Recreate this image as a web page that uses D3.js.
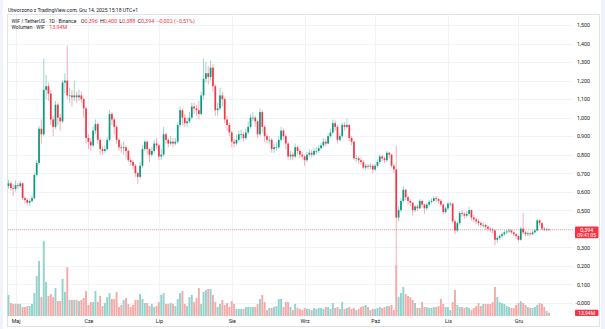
<!DOCTYPE html>
<html><head><meta charset="utf-8">
<script src="https://cdn.jsdelivr.net/npm/d3@7"></script>
<style>
html,body{margin:0;padding:0;background:#fff;}
svg{display:block;font-family:Roboto,"Noto Sans",sans-serif;}
</style></head><body>
<svg id="chart" width="605" height="329"></svg>
<script>
// WIF / TetherUS daily candles, Binance, 28 Apr – 14 Dec 2025
const firstDay = "2025-04-28";

const opens = [
0.630,0.645,0.620,0.615,0.635,0.630,0.645,0.565,0.555,0.540,
0.550,0.565,0.690,0.755,0.940,0.910,1.150,1.170,1.130,0.990,
0.950,1.070,1.000,0.980,1.190,1.200,1.120,1.120,1.110,1.120,
1.110,1.120,1.100,1.050,0.890,0.870,0.850,0.930,0.965,0.880,
0.830,0.820,0.830,0.880,1.020,0.990,0.950,0.880,0.840,0.835,
0.840,0.820,0.770,0.760,0.740,0.700,0.680,0.740,0.830,0.870,
0.830,0.800,0.820,0.860,0.850,0.790,0.800,0.910,0.880,0.860,
0.870,0.860,0.870,0.960,1.040,1.000,0.970,0.980,1.000,1.060,
1.050,1.040,1.020,1.120,1.210,1.240,1.220,1.270,1.170,1.040,
1.050,1.120,1.100,0.990,0.960,0.920,0.870,0.860,0.880,0.910,
0.910,0.890,0.920,0.950,1.000,1.000,0.980,0.910,1.030,0.950,
0.900,0.880,0.880,0.830,0.840,0.840,0.880,0.930,0.900,0.860,
0.790,0.800,0.790,0.840,0.820,0.800,0.790,0.770,0.800,0.810,
0.800,0.820,0.820,0.835,0.850,0.870,0.860,0.900,0.920,0.970,
0.950,0.880,0.900,0.960,0.950,0.960,0.890,0.870,0.780,0.780,
0.770,0.760,0.730,0.740,0.735,0.740,0.720,0.740,0.760,0.790,
0.780,0.770,0.810,0.800,0.740,0.720,0.460,0.500,0.550,0.610,
0.570,0.550,0.540,0.500,0.520,0.510,0.550,0.530,0.510,0.530,
0.545,0.550,0.565,0.560,0.550,0.530,0.490,0.510,0.535,0.535,
0.440,0.390,0.430,0.485,0.480,0.470,0.480,0.500,0.460,0.450,
0.440,0.430,0.420,0.420,0.410,0.400,0.395,0.390,0.340,0.350,
0.360,0.370,0.380,0.385,0.390,0.380,0.370,0.360,0.340,0.400,
0.380,0.370,0.375,0.370,0.380,0.390,0.445,0.430,0.400,0.395,
0.396];

const highs = [
0.665,0.655,0.640,0.660,0.650,0.660,0.650,0.575,0.565,0.560,
0.580,0.700,0.770,0.955,0.990,1.320,1.230,1.190,1.150,1.010,
1.090,1.080,1.020,1.200,1.240,1.390,1.160,1.150,1.200,1.140,
1.150,1.140,1.110,1.060,0.910,0.890,0.950,0.990,0.975,0.890,
0.845,0.850,0.895,1.040,1.030,1.000,0.960,0.890,0.860,0.870,
0.850,0.830,0.785,0.770,0.750,0.710,0.760,0.850,0.880,0.875,
0.835,0.840,0.880,0.890,0.860,0.830,0.950,0.920,0.890,0.900,
0.890,0.890,0.975,1.060,1.050,1.020,1.000,1.030,1.080,1.080,
1.070,1.090,1.140,1.320,1.300,1.280,1.310,1.290,1.180,1.080,
1.160,1.140,1.110,1.010,0.975,0.930,0.885,0.910,0.930,0.935,
0.920,0.940,0.980,1.020,1.030,1.010,0.990,1.050,1.040,0.960,
0.910,0.900,0.890,0.860,0.870,0.900,0.950,0.940,0.910,0.870,
0.820,0.815,0.860,0.850,0.830,0.815,0.800,0.815,0.830,0.825,
0.835,0.840,0.850,0.865,0.890,0.885,0.915,0.940,0.990,0.985,
0.960,0.915,0.975,0.975,0.995,0.965,0.900,0.875,0.800,0.790,
0.785,0.770,0.750,0.750,0.755,0.750,0.750,0.775,0.800,0.800,
0.790,0.820,0.815,0.805,0.750,0.850,0.520,0.565,0.630,0.615,
0.580,0.560,0.545,0.530,0.530,0.560,0.555,0.535,0.540,0.555,
0.565,0.575,0.575,0.565,0.560,0.535,0.520,0.545,0.545,0.540,
0.450,0.440,0.495,0.500,0.490,0.495,0.520,0.505,0.475,0.460,
0.450,0.440,0.435,0.425,0.420,0.410,0.405,0.395,0.360,0.370,
0.380,0.390,0.395,0.400,0.395,0.385,0.375,0.365,0.410,0.485,
0.390,0.385,0.380,0.390,0.400,0.455,0.450,0.435,0.410,0.405,
0.400];

const lows = [
0.615,0.605,0.575,0.600,0.615,0.620,0.555,0.535,0.525,0.525,
0.540,0.560,0.680,0.745,0.860,0.900,1.100,1.090,0.960,0.900,
0.940,0.960,0.930,0.970,1.130,1.100,1.080,1.060,1.090,1.080,
1.090,1.080,1.000,0.860,0.830,0.820,0.840,0.910,0.860,0.800,
0.800,0.810,0.820,0.870,0.960,0.910,0.860,0.820,0.810,0.800,
0.780,0.760,0.740,0.720,0.680,0.640,0.670,0.730,0.820,0.800,
0.760,0.790,0.810,0.830,0.770,0.770,0.790,0.860,0.840,0.850,
0.840,0.850,0.860,0.950,0.960,0.950,0.950,0.970,0.990,1.020,
1.010,0.990,1.010,1.100,1.190,1.180,1.200,1.140,1.010,1.010,
1.040,1.060,0.970,0.930,0.900,0.840,0.840,0.850,0.870,0.885,
0.870,0.880,0.910,0.940,0.980,0.950,0.890,0.900,0.920,0.870,
0.860,0.860,0.810,0.810,0.820,0.830,0.870,0.880,0.830,0.770,
0.770,0.770,0.780,0.800,0.780,0.770,0.740,0.760,0.790,0.785,
0.790,0.800,0.810,0.825,0.840,0.845,0.855,0.890,0.910,0.930,
0.860,0.870,0.890,0.930,0.940,0.870,0.850,0.770,0.760,0.750,
0.745,0.720,0.715,0.720,0.720,0.700,0.710,0.730,0.750,0.765,
0.755,0.760,0.780,0.730,0.700,0.205,0.440,0.490,0.540,0.555,
0.530,0.520,0.470,0.490,0.495,0.505,0.515,0.480,0.500,0.520,
0.535,0.540,0.545,0.535,0.520,0.475,0.480,0.500,0.520,0.430,
0.370,0.380,0.420,0.465,0.455,0.460,0.470,0.445,0.435,0.425,
0.415,0.405,0.405,0.395,0.385,0.380,0.375,0.310,0.325,0.340,
0.350,0.360,0.370,0.375,0.370,0.360,0.345,0.330,0.335,0.370,
0.360,0.360,0.360,0.365,0.375,0.385,0.415,0.390,0.385,0.385,
0.388];

const closes = [
0.645,0.620,0.615,0.635,0.630,0.645,0.565,0.555,0.540,0.550,
0.565,0.690,0.755,0.940,0.910,1.150,1.170,1.130,0.990,0.950,
1.070,1.000,0.980,1.190,1.200,1.120,1.120,1.110,1.120,1.110,
1.120,1.100,1.050,0.890,0.870,0.850,0.930,0.965,0.880,0.830,
0.820,0.830,0.880,1.020,0.990,0.950,0.880,0.840,0.835,0.840,
0.820,0.770,0.760,0.740,0.700,0.680,0.740,0.830,0.870,0.830,
0.800,0.820,0.860,0.850,0.790,0.800,0.910,0.880,0.860,0.870,
0.860,0.870,0.960,1.040,1.000,0.970,0.980,1.000,1.060,1.050,
1.040,1.020,1.120,1.210,1.240,1.220,1.270,1.170,1.040,1.050,
1.120,1.100,0.990,0.960,0.920,0.870,0.860,0.880,0.910,0.910,
0.890,0.920,0.950,1.000,1.000,0.980,0.910,1.030,0.950,0.900,
0.880,0.880,0.830,0.840,0.840,0.880,0.930,0.900,0.860,0.790,
0.800,0.790,0.840,0.820,0.800,0.790,0.770,0.800,0.810,0.800,
0.820,0.820,0.835,0.850,0.870,0.860,0.900,0.920,0.970,0.950,
0.880,0.900,0.960,0.950,0.960,0.890,0.870,0.780,0.780,0.770,
0.760,0.730,0.740,0.735,0.740,0.720,0.740,0.760,0.790,0.780,
0.770,0.810,0.800,0.740,0.720,0.460,0.500,0.550,0.610,0.570,
0.550,0.540,0.500,0.520,0.510,0.550,0.530,0.510,0.530,0.545,
0.550,0.565,0.560,0.550,0.530,0.490,0.510,0.535,0.535,0.440,
0.390,0.430,0.485,0.480,0.470,0.480,0.500,0.460,0.450,0.440,
0.430,0.420,0.420,0.410,0.400,0.395,0.390,0.340,0.350,0.360,
0.370,0.380,0.385,0.390,0.380,0.370,0.360,0.340,0.400,0.380,
0.370,0.375,0.370,0.380,0.390,0.445,0.430,0.400,0.395,0.396,
0.394];

// daily volume, millions of WIF
const volumes = [
89,55,51,51,51,51,38,38,42,42,
51,97,169,233,80,317,144,85,93,80,
118,63,63,157,102,207,68,68,68,68,
63,68,76,106,47,59,59,106,59,85,
42,55,80,97,72,72,102,38,47,68,
76,51,38,47,68,68,93,72,55,55,
42,51,38,42,59,89,97,51,51,55,
51,42,72,97,106,51,42,80,89,59,
76,118,51,102,110,114,114,89,59,38,
51,68,47,55,38,63,51,30,30,30,
30,38,38,38,38,38,51,72,89,59,
25,34,34,38,42,72,72,38,59,59,
38,25,51,34,30,25,34,30,30,25,
34,30,34,34,30,38,38,30,55,34,
38,30,59,30,34,38,30,34,25,30,
38,42,47,38,25,30,30,34,38,34,
38,42,42,47,25,216,80,97,123,93,
85,80,68,55,34,34,59,38,38,34,
34,38,38,42,72,51,38,38,25,59,
110,47,38,38,34,38,34,25,34,42,
55,42,51,51,51,51,59,123,80,59,
55,51,42,38,34,34,47,55,63,55,
47,38,34,34,38,47,55,51,38,21,
13.94];

const priceTicks = [0,0.1,0.2,0.3,0.4,0.5,0.6,0.7,0.8,0.9,1.0,1.1,1.2,1.3,1.4,1.5];
const priceTickLabels = ["-0,000","0,100","0,200","0,300","0,400","0,500","0,600","0,700",
  "0,800","0,900","1,000","1,100","1,200","1,300","1,400","1,500"];
const monthStarts = ["2025-05-01","2025-06-01","2025-07-01","2025-08-01","2025-09-01","2025-10-01","2025-11-01","2025-12-01"];
const monthLabels = ["Maj","Cze","Lip","Sie","Wrz","Paź","Lis","Gru"];

const headerText = "Utworzono z TradingView.com, Gru 14, 2025 15:18 UTC+1";
const symbolText = "WIF / TetherUS \u00b7 1D \u00b7 Binance";
const volumeTitle = "Wolumen \u00b7 WIF";
const lastPriceText = "0,394";
const countdownText = "09:41:05";
const lastVolumeText = "13,94M";

const UP = "#089981", DOWN = "#f23645";
const VOL_UP = "#92d2cc", VOL_DOWN = "#f7a9a7";
const TEXT = "#131722";
const FONT = "Roboto, 'Noto Sans', sans-serif";

const svg = d3.select("#chart");
const W = 605, H = 329;
const frame = {left: 7.5, top: 14.5, right: 599.5, bottom: 326.5};
const plot = {left: 8, right: 573, top: 15, bottom: 316};

const start = d3.utcParse("%Y-%m-%d")(firstDay);
const dates = closes.map((_, i) => d3.utcDay.offset(start, i));
const bars = dates.map((d, i) => ({d, o: opens[i], h: highs[i], l: lows[i], c: closes[i], v: volumes[i]}));

const x = d3.scaleUtc().domain([dates[0], dates[dates.length - 1]]).range([8.5, 549]);
const y = d3.scaleLinear().domain([0, 1.5]).range([302.7, 25.1]);
const yv = d3.scaleLinear().domain([0, 330]).range([plot.bottom, plot.bottom - 78]);

// page margins and frame
svg.append("rect").attr("width", W).attr("height", H).attr("fill", "#fff");
svg.append("rect").attr("x", 0).attr("y", 0).attr("width", 3).attr("height", H).attr("fill", "#f0f3fa");
svg.append("rect").attr("x", 601).attr("y", 0).attr("width", 4).attr("height", H).attr("fill", "#f0f3fa");
svg.append("rect")
  .attr("x", frame.left).attr("y", frame.top)
  .attr("width", frame.right - frame.left).attr("height", frame.bottom - frame.top)
  .attr("fill", "#fff").attr("stroke", "#e0e3eb").attr("stroke-width", 1);

// header
svg.append("text").attr("x", 8).attr("y", 11.8)
  .attr("font-size", 5.1).attr("fill", TEXT)
  .text(headerText);

// grid
const grid = svg.append("g").attr("stroke", "#f0f3fa").attr("stroke-width", 1);
grid.selectAll("line.h").data(priceTicks).join("line")
  .attr("x1", plot.left).attr("x2", plot.right)
  .attr("y1", d => Math.round(y(d)) + 0.5).attr("y2", d => Math.round(y(d)) + 0.5);
const monthDates = monthStarts.map(d3.utcParse("%Y-%m-%d"));
grid.selectAll("line.v").data(monthDates).join("line")
  .attr("x1", d => Math.round(x(d)) + 0.5).attr("x2", d => Math.round(x(d)) + 0.5)
  .attr("y1", plot.top).attr("y2", plot.bottom);

// volume histogram
svg.append("g").selectAll("rect").data(bars).join("rect")
  .attr("x", b => x(b.d) - 0.95).attr("width", 1.9)
  .attr("y", b => yv(b.v)).attr("height", b => plot.bottom - yv(b.v))
  .attr("fill", b => b.c >= b.o ? VOL_UP : VOL_DOWN);

// last price line
const lastBar = bars[bars.length - 1];
svg.append("line")
  .attr("x1", plot.left).attr("x2", plot.right)
  .attr("y1", y(lastBar.c)).attr("y2", y(lastBar.c))
  .attr("stroke", DOWN).attr("stroke-opacity", 0.55).attr("stroke-width", 0.8)
  .attr("stroke-dasharray", "1,1");

// candles
const candles = svg.append("g").selectAll("g").data(bars).join("g");
candles.append("line")
  .attr("x1", b => x(b.d)).attr("x2", b => x(b.d))
  .attr("y1", b => y(b.h)).attr("y2", b => y(b.l))
  .attr("stroke", b => b.c >= b.o ? UP : DOWN)
  .attr("stroke-opacity", 0.45).attr("stroke-width", 0.9);
candles.append("rect")
  .attr("x", b => x(b.d) - 0.85).attr("width", 1.7)
  .attr("y", b => y(Math.max(b.o, b.c)))
  .attr("height", b => Math.max(0.7, Math.abs(y(b.o) - y(b.c))))
  .attr("fill", b => b.c >= b.o ? UP : DOWN);

// price scale; labels hidden behind the last-price badge are skipped
const ly = y(lastBar.c);
const yAxis = d3.axisRight(y).tickValues(priceTicks.filter(t => Math.abs(y(t) - ly) > 8))
  .tickFormat(d => priceTickLabels[priceTicks.indexOf(d)]).tickSize(0);
const ya = svg.append("g").attr("transform", "translate(590,0)").call(yAxis);
ya.select(".domain").remove();
ya.selectAll("text").attr("x", 0).attr("dy", "0.35em").attr("text-anchor", "end")
  .attr("font-size", 5.3).attr("font-family", FONT).attr("fill", TEXT);

// time scale
const xAxis = d3.axisBottom(x).tickValues(monthDates)
  .tickFormat((d, i) => monthLabels[i]).tickSize(0);
const xa = svg.append("g").attr("transform", `translate(0,${plot.bottom})`).call(xAxis);
xa.select(".domain").remove();
xa.selectAll("text").attr("y", 3).attr("dy", "0.71em")
  .attr("font-size", 5.3).attr("font-family", FONT).attr("fill", TEXT);

// last price badge with countdown
svg.append("rect").attr("x", 575).attr("y", ly - 3.4).attr("width", 23.5).attr("height", 11.8)
  .attr("rx", 1).attr("fill", DOWN);
svg.append("text").attr("x", 586.7).attr("y", ly + 1.9).attr("text-anchor", "middle")
  .attr("font-size", 5.3).attr("fill", "#fff").text(lastPriceText);
svg.append("text").attr("x", 586.7).attr("y", ly + 7.3).attr("text-anchor", "middle")
  .attr("font-size", 4.9).attr("fill", "#fff").text(countdownText);

// last volume badge
const vy = yv(lastBar.v);
svg.append("rect").attr("x", 575).attr("y", vy - 3).attr("width", 23.5).attr("height", 6.4)
  .attr("rx", 1).attr("fill", DOWN);
svg.append("text").attr("x", 586.7).attr("y", vy + 1.9).attr("text-anchor", "middle")
  .attr("font-size", 5.1).attr("fill", "#fff").text(lastVolumeText);

// legend: items laid out left to right with a small gap
const fmt = v => d3.format(".3f")(v).replace(".", ",");
const chg = lastBar.c - lastBar.o;
const chgPct = chg / lastBar.o * 100;
const sign = chg < 0 ? "\u2212" : "+";
const chgText = sign + fmt(Math.abs(chg)) + " (" + sign +
  d3.format(".2f")(Math.abs(chgPct)).replace(".", ",") + "%)";
const legendColor = chg < 0 ? DOWN : UP;

function legendRow(yPos, items) {
  let cx = 11.5;
  items.forEach(it => {
    const t = svg.append("text").attr("x", cx).attr("y", yPos)
      .attr("font-size", it.size).attr("fill", TEXT);
    it.parts.forEach(([s, col]) => t.append("tspan").attr("fill", col || TEXT).text(s));
    cx += t.node().getComputedTextLength() + it.gap;
  });
}
legendRow(22.6, [
  {parts: [[symbolText]], gap: 4.5, size: 5.0},
  ...[["O", lastBar.o], ["H", lastBar.h], ["L", lastBar.l], ["C", lastBar.c]]
    .map(([k, v]) => ({parts: [[k], [fmt(v), legendColor]], gap: 2.2, size: 5.4})),
  {parts: [[chgText, legendColor]], gap: 0, size: 5.4}
]);
legendRow(28.8, [
  {parts: [[volumeTitle]], gap: 4.5, size: 5.0},
  {parts: [[lastVolumeText, DOWN]], gap: 0, size: 5.4}
]);
</script>
</body></html>
